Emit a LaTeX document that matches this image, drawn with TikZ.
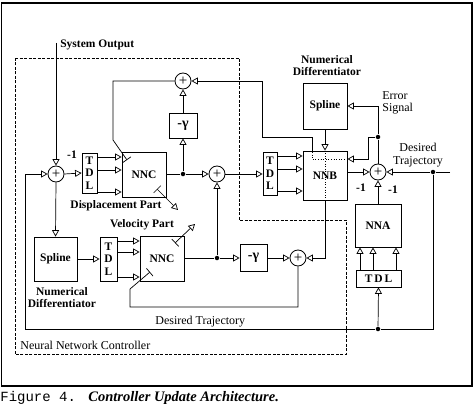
\documentclass[tikz,border=0pt]{standalone}
\usepackage{fontspec}
\setmainfont{Liberation Serif}
\newfontfamily\monof{Liberation Mono}
\usetikzlibrary{arrows.meta,calc}
\begin{document}
\begin{tikzpicture}[x=1pt,y=-1pt,
  line width=0.7pt,
  box/.style={draw, line width=0.8pt, inner sep=0pt, align=center,
    font=\bfseries\fontsize{11.5}{12.5}\selectfont},
  gbox/.style={box, font=\bfseries\fontsize{14}{14}\selectfont},
  sumn/.style={draw, circle, minimum size=16pt, inner sep=0pt, line width=0.8pt,
    font=\fontsize{15}{15}\selectfont},
  dotn/.style={circle, fill, inner sep=0pt, minimum size=4.5pt},
  arr/.style={-{Triangle[open,length=6.5pt,width=7pt]}},
  wbar/.style={-{Bar[width=10pt]}},
  wout/.style={{Bar[width=10pt]}-{Triangle[open,length=6.5pt,width=7pt]}},
  blbl/.style={font=\bfseries\fontsize{11.5}{12}\selectfont, align=center, inner sep=0pt},
  rlbl/.style={font=\fontsize{12}{12.5}\selectfont, inner sep=0pt},
  ctrl/.style={dash pattern=on 3pt off 1.5pt, line width=0.6pt}
]
\useasboundingbox (0,0) rectangle (474,404);
% frame
\draw[line width=1.3pt] (1.5,3) rectangle (472,386);
% controller region
\draw[ctrl] (15,58) -- (239,58) -- (239,220) -- (346,220) -- (346,354) -- (15,354) -- cycle;

% nodes
\node[sumn] (sum1) at (56,174) {+};
\node[box, minimum width=15pt, minimum height=40pt] (tdl1) at (89.5,173) {T\\D\\L};
\node[box, minimum width=44pt, minimum height=45pt] (nnc1) at (144,174.5) {NNC};
\node[gbox, minimum width=28pt, minimum height=25pt] (gam1) at (183,125.5) {-γ};
\node[sumn] (sumt) at (183,81) {+};
\node[dotn] (dotA) at (183,174) {};
\node[sumn] (sum2) at (217,174) {+};
\node[box, minimum width=14pt, minimum height=43pt] (tdl2) at (270,173.5) {T\\D\\L};
\node[box, minimum width=44pt, minimum height=49pt] (nnb) at (325,175.5) {NNB};
\node[box, minimum width=44pt, minimum height=46pt] (spl2) at (325,106) {Spline};
\node[sumn] (sum3) at (378,172) {+};
\node[dotn] (dotB) at (378,137) {};
\node[dotn] (dotC) at (433,172) {};
\coordinate (dtin) at (450,172);
\node[box, minimum width=46pt, minimum height=43pt] (nna) at (378,225.5) {NNA};
\node[box, minimum width=45pt, minimum height=17pt] (tdl3) at (378.5,278.5) {T\,D\,L};
\node[dotn] (dotD) at (378,329) {};
\node[box, minimum width=43pt, minimum height=44pt] (spl1) at (55.5,259) {Spline};
\node[box, minimum width=17pt, minimum height=44pt] (tdlv) at (108.5,259) {T\\D\\L};
\node[box, minimum width=44pt, minimum height=45pt] (nnc2) at (162,258.5) {NNC};
\node[dotn] (dotE) at (217,258) {};
\node[gbox, minimum width=27pt, minimum height=27pt] (gam2) at (253.5,257.5) {-γ};
\node[sumn] (sum4) at (298,258) {+};

% labels
\node[blbl, anchor=west] (lso) at (60,45) {System Output};
\node[blbl] (lm1a) at (72,155) {-1};
\node[blbl] (ldp) at (116,206) {Displacement Part};
\node[blbl] (lvp) at (142,225) {Velocity Part};
\node[blbl] (lnd1) at (62,298) {Numerical\\Differentiator};
\node[blbl] (lnd2) at (327,66) {Numerical\\Differentiator};
\node[rlbl, align=left, anchor=west] (les) at (382,103) {Error\\Signal};
\node[rlbl, align=center] (ldt) at (418,155) {Desired\\Trajectory};
\node[blbl] (lm1b) at (361,188) {-1};
\node[blbl] (lm1c) at (393,190) {-1};
\node[rlbl, anchor=west] (ldt2) at (155,322) {Desired Trajectory};
\node[rlbl, anchor=west] (lnnc) at (20,345) {Neural Network Controller};
\node[anchor=base west, inner sep=0pt, font=\monof\fontsize{14}{14}\selectfont] (cap1) at (0,401) {Figure 4.};
\node[anchor=base west, inner sep=0pt, font=\bfseries\itshape\fontsize{14.5}{15}\selectfont] (cap2) at (88,401) {Controller Update Architecture.};

% coordinates
\coordinate (sotop) at (56,43);
\coordinate (l1) at (25,329);
\coordinate (w1a) at (113,81);
\coordinate (w1b) at (113,140);
\coordinate (w1c) at (127,160);
\coordinate (o1a) at (157,189);
\coordinate (o1b) at (178,210);
\coordinate (o2a) at (175,243);
\coordinate (o2b) at (195,224);
\coordinate (w2a) at (298,307);
\coordinate (w2b) at (130,307);
\coordinate (w2c) at (130,289);
\coordinate (w2d) at (150,272);
\coordinate (bp1) at (312,152);
\coordinate (bp2) at (312,137);
\coordinate (bp3) at (262,137);
\coordinate (bp4) at (262,81);
\coordinate (bp5) at (312,159);
\coordinate (bp6) at (346,159);
\coordinate (e1) at (368,137);
\coordinate (e2) at (368,159);
\coordinate (nb1) at (325,258);

% connectors
\draw[arr] (sotop) -- (sum1.north);
\draw[arr] (sum1.east) -- (tdl1.west);
\draw[arr] (sum1.south) -- (spl1.north);
\draw[arr] (dotC) |- (dotD) -- (l1) |- (sum1.west);
\foreach \yy in {157,170,192}
  \draw[arr] (tdl1.east |- 0,\yy) -- (nnc1.west |- 0,\yy);
\draw (nnc1.east |- dotA) -- (dotA);
\draw[arr] (dotA) -- (sum2.west);
\draw[arr] (dotA) -- (gam1.south);
\draw[arr] (gam1.north) -- (sumt.south);
\draw[wbar] (sumt.west) -- (w1a) -- (w1b) -- (w1c);
\draw[wout] (o1a) -- (o1b);
\draw[arr] (sum2.east) -- (tdl2.west |- sum2);
\foreach \yy in {156,169,191}
  \draw[arr] (tdl2.east |- 0,\yy) -- (nnb.west |- 0,\yy);
\draw[arr] (bp1) -- (bp2) -- (bp3) -- (bp4) -- (sumt.east);
\draw[dotted, line width=0.6pt] (bp1) -- (bp5) -- (bp6);
\draw[arr] (spl2.south) -- (nnb.north);
\draw[dotted, line width=0.6pt] (nnb.north) -- (nnb.south);
\draw[arr] (nnb.east |- sum3) -- (sum3.west);
\draw (sum3.north) -- (dotB);
\draw[arr] (dotB) |- (spl2.east);
\draw[arr] (dotB) -- (e1) -- (e2) -- (nnb.east |- e2);
\draw[arr] (dtin) -- (dotC) -- (sum3.east);
\draw[arr] (nna.north) -- (sum3.south);
\draw[arr] (dotD) -- (tdl3.south);
\foreach \xx in {360,373,396}
  \draw[arr] (tdl3.north -| \xx,0) -- (nna.south -| \xx,0);
\draw[arr] (nnb.south) -- (nb1) -- (sum4.east);
\draw[arr] (spl1.east) -- (tdlv.west);
\foreach \yy in {241,252,277}
  \draw[arr] (tdlv.east |- 0,\yy) -- (nnc2.west |- 0,\yy);
\draw (nnc2.east |- dotE) -- (dotE);
\draw[arr] (dotE) -- (gam2.west |- dotE);
\draw[arr] (gam2.east |- sum4) -- (sum4.west);
\draw[arr] (dotE) -- (sum2.south);
\draw[wbar] (sum4.south) -- (w2a) -- (w2b) -- (w2c) -- (w2d);
\draw[wout] (o2a) -- (o2b);
\end{tikzpicture}
\end{document}
